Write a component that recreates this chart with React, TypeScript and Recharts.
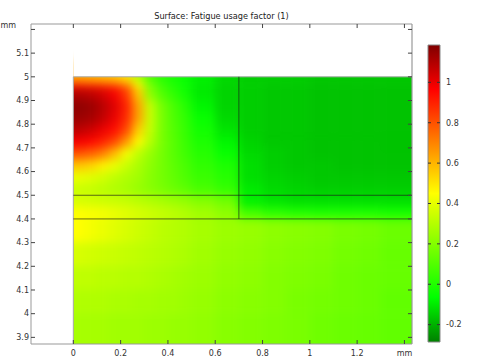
import React from 'react';
import { ScatterChart, Scatter, XAxis, YAxis, ReferenceArea, ReferenceLine } from 'recharts';

const xTicks = [0, 0.2, 0.4, 0.6, 0.8, 1, 1.2, 1.4];
const yTicks = [3.9, 4, 4.1, 4.2, 4.3, 4.4, 4.5, 4.6, 4.7, 4.8, 4.9, 5, 5.1, 5.2];
const colorTicks = [-0.2, 0, 0.2, 0.4, 0.6, 0.8, 1];
const xRange = [-0.179, 1.432];
const yRange = [3.872, 5.223];
const colorRange = [-0.286, 1.185];

// "Traffic" colour table
const cmapValues = [-0.286, -0.065, 0.45, 0.965, 1.185];
const cmapColors = ['#008000', '#00ff00', '#ffff00', '#ff0000', '#800000'];

// cell edges of the sampled surface (mm)
const cellX = [0, 0.05, 0.1, 0.15, 0.2, 0.25, 0.3, 0.35, 0.4, 0.45, 0.5, 0.6, 0.7, 0.8, 0.9, 1.0, 1.1, 1.2, 1.3, 1.45];
const cellY = [5.0, 4.975, 4.95, 4.9, 4.85, 4.8, 4.75, 4.7, 4.65, 4.6, 4.55, 4.5, 4.45, 4.4, 4.3, 4.2, 4.1, 4.0, 3.85];

// fatigue usage factor, one row per cellY band (top to bottom)
const usage = [
  [0.62, 0.6, 0.58, 0.56, 0.5, 0.3, 0.1, 0.02, -0.02, -0.05, -0.09, -0.13, -0.15, -0.15, -0.15, -0.16, -0.16, -0.16, -0.16],
  [0.92, 0.9, 0.88, 0.84, 0.74, 0.47, 0.18, 0.05, -0.01, -0.05, -0.1, -0.14, -0.15, -0.16, -0.16, -0.17, -0.17, -0.17, -0.17],
  [1.1, 1.08, 1.04, 0.98, 0.85, 0.57, 0.22, 0.1, 0.03, -0.03, -0.1, -0.14, -0.15, -0.16, -0.16, -0.17, -0.17, -0.17, -0.17],
  [1.16, 1.14, 1.09, 1.02, 0.9, 0.64, 0.33, 0.17, 0.08, 0.01, -0.08, -0.14, -0.15, -0.16, -0.16, -0.17, -0.17, -0.17, -0.17],
  [1.14, 1.12, 1.07, 1.0, 0.88, 0.64, 0.34, 0.18, 0.09, 0.03, -0.05, -0.13, -0.15, -0.16, -0.16, -0.17, -0.17, -0.17, -0.17],
  [1.08, 1.05, 1.0, 0.94, 0.82, 0.55, 0.33, 0.18, 0.1, 0.04, -0.03, -0.11, -0.15, -0.16, -0.16, -0.17, -0.17, -0.17, -0.17],
  [0.98, 0.95, 0.9, 0.82, 0.66, 0.46, 0.3, 0.18, 0.11, 0.05, -0.01, -0.08, -0.14, -0.16, -0.16, -0.17, -0.17, -0.17, -0.17],
  [0.8, 0.77, 0.71, 0.59, 0.43, 0.32, 0.24, 0.17, 0.11, 0.06, 0.01, -0.05, -0.13, -0.15, -0.16, -0.17, -0.17, -0.17, -0.17],
  [0.57, 0.54, 0.48, 0.41, 0.34, 0.28, 0.22, 0.17, 0.12, 0.08, 0.03, -0.01, -0.12, -0.15, -0.16, -0.16, -0.17, -0.17, -0.17],
  [0.41, 0.39, 0.36, 0.32, 0.29, 0.26, 0.21, 0.17, 0.13, 0.09, 0.05, 0.01, -0.12, -0.14, -0.15, -0.16, -0.16, -0.16, -0.16],
  [0.34, 0.33, 0.31, 0.29, 0.27, 0.24, 0.21, 0.18, 0.15, 0.12, 0.08, 0.04, -0.1, -0.13, -0.14, -0.15, -0.15, -0.15, -0.15],
  [0.37, 0.36, 0.35, 0.34, 0.33, 0.31, 0.29, 0.27, 0.25, 0.23, 0.2, 0.16, -0.09, -0.11, -0.12, -0.12, -0.12, -0.12, -0.12],
  [0.45, 0.44, 0.43, 0.41, 0.39, 0.37, 0.35, 0.33, 0.31, 0.29, 0.26, 0.22, 0.07, 0.02, 0.0, -0.01, -0.01, -0.01, -0.02],
  [0.45, 0.43, 0.41, 0.39, 0.37, 0.35, 0.33, 0.31, 0.3, 0.29, 0.27, 0.25, 0.24, 0.22, 0.21, 0.2, 0.18, 0.17, 0.15],
  [0.37, 0.36, 0.35, 0.34, 0.33, 0.32, 0.31, 0.3, 0.29, 0.28, 0.26, 0.24, 0.23, 0.21, 0.2, 0.19, 0.17, 0.16, 0.14],
  [0.32, 0.32, 0.31, 0.31, 0.3, 0.3, 0.29, 0.28, 0.27, 0.26, 0.25, 0.23, 0.22, 0.2, 0.19, 0.18, 0.16, 0.15, 0.14],
  [0.29, 0.29, 0.29, 0.28, 0.28, 0.27, 0.27, 0.26, 0.26, 0.25, 0.24, 0.22, 0.21, 0.2, 0.18, 0.17, 0.16, 0.15, 0.13],
  [0.27, 0.27, 0.27, 0.26, 0.26, 0.26, 0.25, 0.25, 0.24, 0.24, 0.23, 0.21, 0.2, 0.19, 0.18, 0.16, 0.15, 0.14, 0.13],
];

// geometry boundaries
const boundaries = [
  [{ x: 0, y: 4.5 }, { x: 1.432, y: 4.5 }],
  [{ x: 0, y: 4.4 }, { x: 1.432, y: 4.4 }],
  [{ x: 0.7, y: 4.4 }, { x: 0.7, y: 5 }],
];
const outerEdges = [
  [{ x: 0, y: 3.872 }, { x: 0, y: 5 }],
  [{ x: 0, y: 5 }, { x: 1.432, y: 5 }],
];

// plot window corners, only to anchor the axes
const frame = [
  { x: xRange[0], y: yRange[0] },
  { x: xRange[1], y: yRange[1] },
];
const barFrame = [
  { x: 0, y: colorRange[0] },
  { x: 1, y: colorRange[1] },
];

const font = '"DejaVu Sans", sans-serif';
const margin = { top: 24, right: 69, bottom: 17, left: 31 };
const bleed = 0.07; // edge cells drawn a bit past the part so the smoothing does not fade at the border
const tickLen = 0.017; // ~4 px, in mm
const barTickLen = 0.25; // ~3 px of the 12 px colour bar

const hex = (c: string) => [1, 3, 5].map((i) => parseInt(c.slice(i, i + 2), 16));

const colorOf = (v: number) => {
  let k = 0;
  while (k < cmapValues.length - 2 && v > cmapValues[k + 1]) k++;
  const t = Math.max(0, Math.min(1, (v - cmapValues[k]) / (cmapValues[k + 1] - cmapValues[k])));
  const a = hex(cmapColors[k]);
  const b = hex(cmapColors[k + 1]);
  const c = a.map((ai, i) => Math.round(ai + (b[i] - ai) * t));
  return `rgb(${c[0]},${c[1]},${c[2]})`;
};

const YTick = (props: any) => {
  const { x, y, payload } = props;
  const top = payload.value === yTicks[yTicks.length - 1];
  return (
    <text x={top ? x - 13 : x} y={top ? y - 4 : y} dy="0.35em" textAnchor="end" fontSize={8} fill="#333" fontFamily={font}>
      {top ? 'mm' : payload.value}
    </text>
  );
};

const XTick = (props: any) => {
  const { x, y, payload } = props;
  const last = payload.value === xTicks[xTicks.length - 1];
  return (
    <text x={x} y={y} dy="0.71em" textAnchor="middle" fontSize={8} fill="#333" fontFamily={font}>
      {last ? 'mm' : payload.value}
    </text>
  );
};

const NoShape = () => <g />;

const SurfaceLayer = () => {
  const nRows = usage.length;
  const nCols = cellX.length - 1;
  const cells: React.ReactNode[] = [];
  usage.forEach((row, i) =>
    row.forEach((v, j) => {
      cells.push(
        <ReferenceArea
          key={`c${i}-${j}`}
          x1={j === 0 ? cellX[0] - bleed : cellX[j]}
          x2={j === nCols - 1 ? cellX[j + 1] + bleed : cellX[j + 1]}
          y1={i === nRows - 1 ? cellY[i + 1] - bleed : cellY[i + 1]}
          y2={i === 0 ? cellY[0] + bleed : cellY[i]}
          fill={colorOf(v)}
          fillOpacity={1}
          stroke={colorOf(v)}
          strokeWidth={0.6}
          ifOverflow="visible"
        />
      );
    })
  );
  return (
    <ScatterChart width={481} height={361} margin={margin}>
      {cells}
      <Scatter data={frame} dataKey="y" shape={<NoShape />} isAnimationActive={false} />
      <XAxis dataKey="x" type="number" domain={xRange} allowDataOverflow hide />
      <YAxis dataKey="y" type="number" domain={yRange} allowDataOverflow hide />
    </ScatterChart>
  );
};

export default function App() {
  const stops = cmapValues.map((v, i) => (
    <stop key={i} offset={(v - colorRange[0]) / (colorRange[1] - colorRange[0])} stopColor={cmapColors[i]} />
  ));

  return (
    <div style={{ position: 'absolute', left: 0, top: 0, width: 481, height: 361, background: '#fff', fontFamily: font }}>
      <svg width={0} height={0} style={{ position: 'absolute' }}>
        <defs>
          <linearGradient id="trafficBar" x1="0" y1="1" x2="0" y2="0">
            {stops}
          </linearGradient>
        </defs>
      </svg>
      <div style={{ position: 'absolute', left: 31, top: 11, width: 381, textAlign: 'center', fontSize: 8.2, lineHeight: '10px', color: '#222' }}>
        Surface: Fatigue usage factor (1)
      </div>
      <div style={{ position: 'absolute', left: margin.left, top: margin.top, width: 481 - margin.left - margin.right, height: 361 - margin.top - margin.bottom, overflow: 'hidden' }}>
        <div style={{ position: 'absolute', left: -margin.left, top: -margin.top, filter: 'blur(5px)' }}>
          <SurfaceLayer />
        </div>
      </div>
      <div style={{ position: 'absolute', left: 0, top: 0 }}>
        <ScatterChart width={481} height={361} margin={{ top: 24, right: 69, bottom: 0, left: 0 }}>
          <ReferenceArea x1={xRange[0]} x2={0} y1={yRange[0]} y2={yRange[1]} fill="#fff" fillOpacity={1} stroke="none" ifOverflow="visible" />
          <ReferenceArea x1={0} x2={xRange[1]} y1={5} y2={yRange[1]} fill="#fff" fillOpacity={1} stroke="none" ifOverflow="visible" />
          {outerEdges.map((s, i) => (
            <ReferenceLine key={`e${i}`} segment={s} stroke="#a8a8a8" strokeWidth={1} ifOverflow="visible" />
          ))}
          {boundaries.map((s, i) => (
            <ReferenceLine key={`b${i}`} segment={s} stroke="#1a1a1a" strokeOpacity={0.65} strokeWidth={1} ifOverflow="visible" />
          ))}
          {/* top and right side of the frame, with inward ticks */}
          <ReferenceLine segment={[{ x: xRange[0], y: yRange[1] }, { x: xRange[1], y: yRange[1] }]} stroke="#999" strokeWidth={1.2} ifOverflow="visible" />
          <ReferenceLine segment={[{ x: xRange[1], y: yRange[0] }, { x: xRange[1], y: yRange[1] }]} stroke="#999" strokeWidth={1.2} ifOverflow="visible" />
          {xTicks.map((t) => (
            <ReferenceLine key={`tt${t}`} segment={[{ x: t, y: yRange[1] }, { x: t, y: yRange[1] - tickLen }]} stroke="#444" ifOverflow="visible" />
          ))}
          {yTicks.map((t) => (
            <ReferenceLine key={`rt${t}`} segment={[{ x: xRange[1] - tickLen, y: t }, { x: xRange[1], y: t }]} stroke="#444" ifOverflow="visible" />
          ))}
          <Scatter data={frame} dataKey="y" shape={<NoShape />} isAnimationActive={false} />
          <XAxis dataKey="x" type="number" orientation="bottom" domain={xRange} allowDataOverflow ticks={xTicks} height={17}
            tickSize={-4} tickMargin={10} tick={<XTick />} axisLine={{ stroke: '#999' }} tickLine={{ stroke: '#444' }} interval={0} />
          <YAxis dataKey="y" type="number" orientation="left" domain={yRange} allowDataOverflow ticks={yTicks} width={31}
            tickSize={-4} tickMargin={6} tick={<YTick />} axisLine={{ stroke: '#999' }} tickLine={{ stroke: '#444' }} interval={0} />
        </ScatterChart>
      </div>
      <div style={{ position: 'absolute', left: 420, top: 0 }}>
        <ScatterChart width={61} height={361} margin={{ top: 45, right: 0, bottom: 19, left: 8 }}>
          <ReferenceArea x1={0} x2={1} y1={colorRange[0]} y2={colorRange[1]} fill="url(#trafficBar)" fillOpacity={1}
            stroke="#888" strokeWidth={1} ifOverflow="visible" />
          {colorTicks.map((t) => (
            <ReferenceLine key={`ct${t}`} segment={[{ x: 0, y: t }, { x: barTickLen, y: t }]} stroke="#333" ifOverflow="visible" />
          ))}
          <Scatter data={barFrame} dataKey="y" shape={<NoShape />} isAnimationActive={false} />
          <XAxis dataKey="x" type="number" domain={[0, 1]} allowDataOverflow hide />
          <YAxis dataKey="y" type="number" orientation="right" domain={colorRange} allowDataOverflow ticks={colorTicks} width={41}
            tickSize={-3} tickMargin={9} tick={{ fontSize: 8, fill: '#333', fontFamily: font }} axisLine={false}
            tickLine={{ stroke: '#333' }} interval={0} />
        </ScatterChart>
      </div>
    </div>
  );
}
